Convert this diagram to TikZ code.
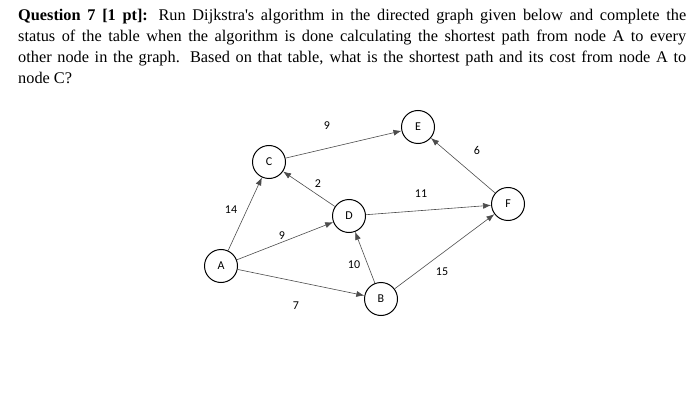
\documentclass[tikz,border=0pt]{standalone}
\usepackage{fontspec}
\usepackage{textcomp}
\setmainfont{Liberation Serif}
\newfontfamily\lbl{Carlito}
\usetikzlibrary{arrows.meta}
\begin{document}
\begin{tikzpicture}[x=1pt,y=-1pt,
  vert/.style={circle,draw,line width=1pt,minimum size=33pt,inner sep=0pt,font=\lbl\fontsize{12}{13}\selectfont},
  edge/.style={draw=black!70,line width=0.6pt,-{Latex[length=8pt,width=6pt]}},
  wt/.style={font=\lbl\fontsize{12}{13}\selectfont}]
\useasboundingbox (0,0) rectangle (700,403);
\node[anchor=north west,text width=668pt,align=justify,inner sep=0pt,font=\fontsize{16.3}{21}\selectfont] (q) at (18,9)
{\textbf{Question 7 [1 pt]:} Run Dijkstra\textquotesingle s algorithm in the directed graph given below and complete the\linebreak status of the table when the algorithm is done calculating the shortest path from node A to every\linebreak other node in the graph. Based on that table, what is the shortest path and its cost from node A to\linebreak node C?};
\node[vert] (A) at (221,266) {A};
\node[vert] (C) at (269,162) {C};
\node[vert] (E) at (418,127) {E};
\node[vert] (D) at (349,216) {D};
\node[vert] (F) at (508,204) {F};
\node[vert] (B) at (381,299) {B};
\draw[edge] (A) -- (C);
\draw[edge] (A) -- (D);
\draw[edge] (A) -- (B);
\draw[edge] (C) -- (E);
\draw[edge] (D) -- (C);
\draw[edge] (D) -- (F);
\draw[edge] (B) -- (D);
\draw[edge] (B) -- (F);
\draw[edge] (F) -- (E);
\node[wt] (w1) at (327,126) {9};
\node[wt] (w2) at (477,150) {6};
\node[wt] (w3) at (318,184) {2};
\node[wt] (w4) at (421,194) {11};
\node[wt] (w5) at (231,210) {14};
\node[wt] (w6) at (282,236) {9};
\node[wt] (w7) at (354,265) {10};
\node[wt] (w8) at (442,272) {15};
\node[wt] (w9) at (296,306) {7};
\end{tikzpicture}
\end{document}
